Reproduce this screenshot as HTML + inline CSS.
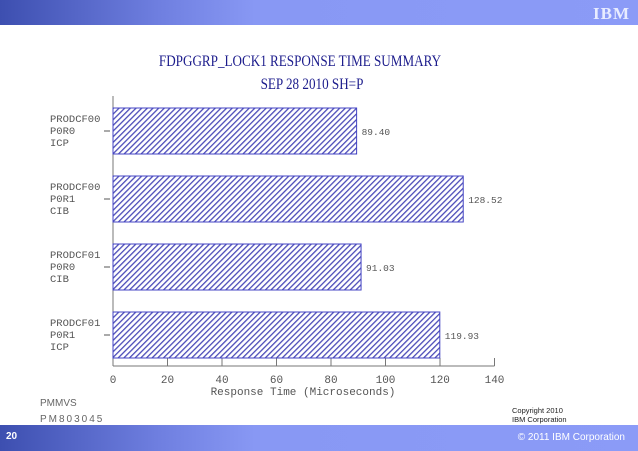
<!DOCTYPE html>
<html><head><meta charset="utf-8"><style>
html,body{margin:0;padding:0;background:#fff}
#wrap{position:relative;width:638px;height:451px;overflow:hidden;font-family:"Liberation Mono",monospace}
.band{position:absolute;left:0;width:638px}
</style></head><body>
<div id="wrap">
<div class="band" style="top:0;height:25px;background:linear-gradient(90deg,#3d4fb0 0%,#6f7fe0 25%,#8898f4 40%,#8b9bf7 100%)"></div>
<div style="position:absolute;right:8px;top:4px;color:#e8ecff;font:bold 17px 'Liberation Serif',serif;letter-spacing:1px">IBM</div>
<div class="band" style="top:425px;height:26px;background:linear-gradient(90deg,#3d4fb0 0%,#6f7fe0 25%,#8898f4 40%,#8b9bf7 100%)"></div>
<div style="position:absolute;left:6px;top:431px;color:#fff;font:bold 10px 'Liberation Sans',sans-serif">20</div>
<div style="position:absolute;right:13px;top:432px;color:#fff;font:10px 'Liberation Sans',sans-serif">© 2011 IBM Corporation</div>
<svg id="chart" width="638" height="451" style="position:absolute;left:0;top:0">
<defs><pattern id="hatch" width="4" height="4" patternUnits="userSpaceOnUse" patternTransform="rotate(45)"><rect width="4" height="4" fill="#fff"/><rect width="1.3" height="4" fill="#4b4bb8"/></pattern></defs>
<g id="title" font-family="'Liberation Serif',serif" fill="#1c1c8c" font-size="16" text-anchor="middle">
<text x="300" y="66" transform="translate(300 0) scale(0.82 1) translate(-300 0)">FDPGGRP_LOCK1 RESPONSE TIME SUMMARY</text>
<text x="312" y="89" transform="translate(312 0) scale(0.82 1) translate(-312 0)">SEP 28 2010 SH=P</text>
</g>
<g id="g"></g>
<text x="303" y="395" font-size="11" fill="#555" text-anchor="middle">Response Time (Microseconds)</text>
<text x="40" y="406" font-size="10" fill="#666" font-family="'Liberation Sans',sans-serif">PMMVS</text>
<text x="40" y="422" font-size="10" fill="#666" font-family="'Liberation Sans',sans-serif" letter-spacing="2">PM803045</text>
<text x="512" y="413" font-size="7.5" fill="#222" font-family="'Liberation Sans',sans-serif">Copyright 2010</text>
<text x="512" y="422" font-size="7.5" fill="#222" font-family="'Liberation Sans',sans-serif">IBM Corporation</text>
</svg>
</div>
<script>
const categories=[["PRODCF00","P0R0","ICP"],["PRODCF00","P0R1","CIB"],["PRODCF01","P0R0","CIB"],["PRODCF01","P0R1","ICP"]];
const values=[89.40,128.52,91.03,119.93];
const valueLabels=["89.40","128.52","91.03","119.93"];
const ticks=[0,20,40,60,80,100,120,140];
const X0=113,SC=2.725,TOP=96,AXY=366,BAND=68,BH=46;
const xs=v=>X0+v*SC;
const yc=i=>TOP+12+BAND*i+BH/2;
const g=document.getElementById('g');
const NS='http://www.w3.org/2000/svg';
function mk(t,a){const e=document.createElementNS(NS,t);for(const k in a)e.setAttribute(k,a[k]);g.appendChild(e);return e;}
let e;
e=mk('line',{x1:X0,y1:TOP,x2:X0,y2:AXY,stroke:'#777','stroke-width':1});


e=mk('line',{x1:X0,y1:AXY,x2:xs(140),y2:AXY,stroke:'#777','stroke-width':1});


ticks.forEach(t=>{
 e=mk('line',{x1:xs(t),y1:AXY,x2:xs(t),y2:AXY-8,stroke:'#777'});
 
 
 e=mk('text',{x:xs(t),y:AXY+17,'font-size':11,fill:'#555','text-anchor':'middle'});
 e.textContent=String(t);
 
 
});
values.forEach((v,i)=>{
 const y=yc(i);
 e=mk('rect',{x:X0,y:y-BH/2,width:xs(v)-X0,height:BH,fill:'url(#hatch)',stroke:'#4444c4','stroke-width':1});
 
 
 e=mk('text',{x:xs(v)+5,y:y+4,'font-size':9.5,fill:'#555'});
 e.textContent=valueLabels[i];
 
 
 e=mk('line',{x1:X0-9,y1:y,x2:X0-3,y2:y,stroke:'#555'});
 
 
 categories[i].forEach((s,j)=>{
  e=mk('text',{x:50,y:y-9+j*12,'font-size':10.5,fill:'#555'});
  e.textContent=s;
  
  
 });
});
</script>
</body></html>
